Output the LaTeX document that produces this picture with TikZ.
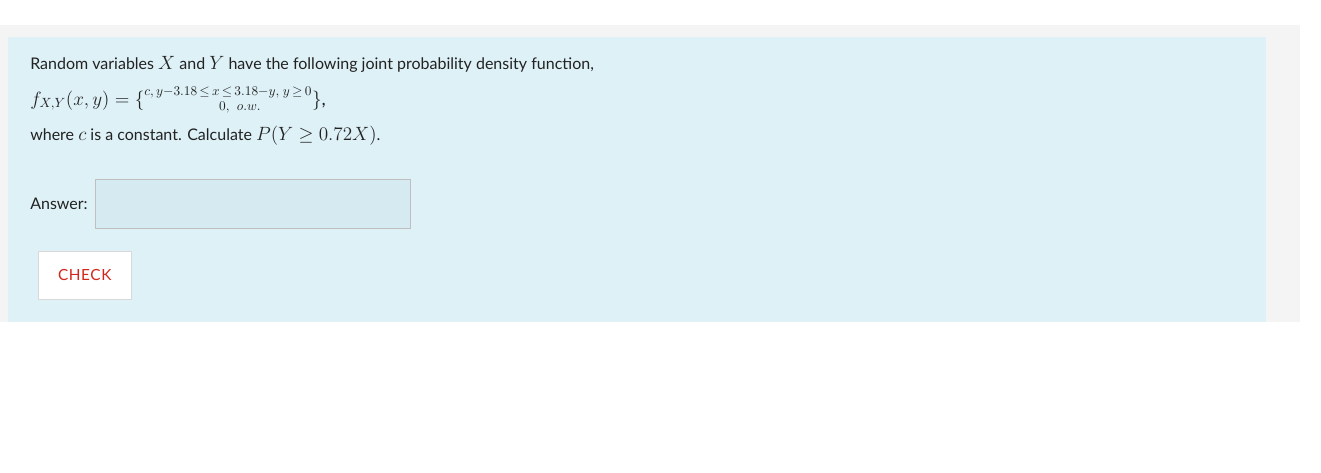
\documentclass[tikz,border=0pt]{standalone}
\usepackage{amsmath}
\usepackage{fontspec}
\setmainfont{Lato}
\definecolor{panel}{HTML}{DEF1F7}
\definecolor{strip}{HTML}{F4F4F4}
\definecolor{inbox}{HTML}{D6EAF1}
\definecolor{txt}{HTML}{222222}
\definecolor{chk}{HTML}{D2261A}
\newcommand{\bm}[1]{{\fontsize{14}{16}\selectfont$#1$}}
\begin{document}
\begin{tikzpicture}[x=0.75pt,y=-0.75pt,
  txtnode/.style={anchor=west,inner sep=0pt,text=txt,font=\fontsize{12}{14}\selectfont}]
\useasboundingbox[fill=white] (0,0) rectangle (1321,472);
\fill[strip] (0,25) rectangle (1300,322);
\fill[panel] (8,37) rectangle (1266,322);
\node[txtnode] (l1) at (30,64) {Random variables \bm{X} and \bm{Y} have the following joint probability density function,};
\node[txtnode] (l2) at (30,100) {\fontsize{14}{16}\selectfont$f_{X,Y}(x,y)=\{{}^{c,\,y-3.18\,\le\, x\,\le\, 3.18-y,\;y\,\ge\,0}_{\qquad\qquad 0,\;\;o.w.}\}$,};
\node[txtnode] (l3) at (30,136) {where \bm{c} is a constant. Calculate \bm{P(Y\ge 0.72X)}.};
\node[txtnode] (ans) at (30,204) {Answer:};
\node[draw=black!25,fill=inbox,minimum width=315*0.75pt,minimum height=49*0.75pt,anchor=north west,inner sep=0pt] (box) at (95,179) {};
\node[draw=black!15,fill=white,minimum width=93*0.75pt,minimum height=48*0.75pt,anchor=north west,inner sep=0pt,text=chk,font=\fontsize{11.5}{13}\selectfont] (check) at (38,251) {\addfontfeature{LetterSpace=4}CHECK};
\end{tikzpicture}
\end{document}
